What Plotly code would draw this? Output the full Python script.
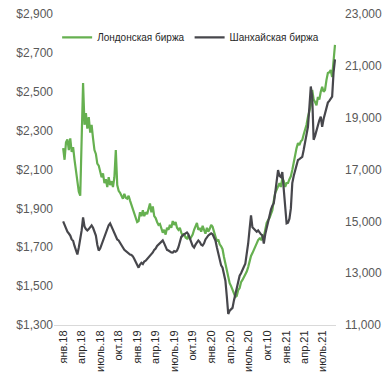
import pandas as pd
import plotly.graph_objects as go

# Weekly observations starting 2018-01-01
start_date = "2018-01-01"

london_usd = [
    2210, 2150, 2240, 2255, 2200, 2260, 2190, 2215, 2150, 2090,
    2040, 1985, 1965, 2350, 2545, 2330, 2390, 2310, 2370, 2290,
    2330, 2260, 2200, 2180, 2130, 2120, 2090, 2060, 2080, 2030,
    2050, 2010, 2060, 2020, 2040, 2010, 2060, 2200, 2020, 1990,
    1980, 1960, 1950, 1975, 1955, 1950, 1965, 1940, 1920, 1890,
    1880, 1860, 1830, 1835, 1880, 1860, 1890, 1860, 1880, 1870,
    1900, 1925, 1880, 1910, 1860, 1850, 1830, 1815, 1820, 1790,
    1775, 1790, 1765, 1800, 1790, 1815, 1800, 1835, 1815, 1830,
    1800, 1790, 1800, 1775, 1760, 1770, 1750, 1745, 1760, 1740,
    1750, 1765, 1790, 1810, 1825, 1790, 1800, 1780, 1810, 1790,
    1770, 1800, 1780, 1795, 1815, 1805, 1780, 1760, 1730, 1740,
    1715, 1705, 1690, 1650, 1615, 1580, 1545, 1515, 1500, 1480,
    1455, 1444, 1450, 1480, 1490, 1520, 1532, 1545, 1557, 1575,
    1598, 1630, 1655, 1670, 1690, 1700, 1720, 1737, 1745, 1740,
    1760, 1753, 1790, 1825, 1840, 1850, 1870, 1890, 1940, 1980,
    1995, 2010, 2030, 2010, 2056, 2040, 2010, 2030, 2031, 2050,
    2065, 2097, 2140, 2185, 2210, 2236, 2225, 2245, 2252, 2280,
    2303, 2330, 2370, 2400, 2430, 2509, 2460, 2447, 2430, 2473,
    2460, 2500, 2525, 2500, 2509, 2560, 2596, 2600, 2612, 2576,
    2663, 2741,
]

shanghai_cny = [
    15000, 14850, 14770, 14600, 14530, 14450, 14300, 14250, 14050, 13850,
    13720, 13990, 14300, 14650, 15155, 14800, 14700, 14650, 14700, 14800,
    14844, 14750, 14600, 14450, 14100, 13873, 13950, 14100, 14300, 14450,
    14600, 14750, 14850, 14922, 14800, 14650, 14500, 14378, 14300, 14262,
    14150, 14050, 13990, 13900, 13850, 13796, 13750, 13720, 13700, 13650,
    13550, 13450, 13369, 13213, 13330, 13400, 13350, 13450, 13485, 13550,
    13600, 13680, 13720, 13800, 13900, 13951, 14050, 14100, 14184, 14230,
    14262, 14150, 14000, 13900, 13873, 13820, 13800, 13796, 13850, 13830,
    13873, 14000, 14200, 14400, 14456, 14500, 14550, 14572, 14500, 14378,
    14200, 14050, 13990, 14100, 14200, 14262, 14200, 14100, 14067, 14150,
    14300, 14400, 14456, 14500, 14534, 14500, 14350, 14262, 14000, 13757,
    13500, 13300, 13213, 12950, 12709, 12100, 11427, 11550, 11620, 11660,
    11950, 12204, 12450, 12709, 12900, 13000, 13097, 13250, 13369, 13700,
    14145, 14700, 15232, 14767, 14700, 14650, 14600, 14650, 14550, 14500,
    14456, 14145, 14500, 14767, 15050, 15310, 15450, 15600, 15698, 16100,
    16475, 16980, 16750, 16709, 16902, 16300, 15500, 14922, 14950, 15100,
    15500, 16475, 16750, 16980, 17150, 17368, 17400, 17450, 17485, 17750,
    18028, 18300, 18650, 19400, 20203, 19814, 18145, 18300, 18533, 18700,
    18900, 19038, 18650, 18950, 19193, 19400, 19581, 19650, 19750, 19814,
    20746, 21251,
]

tick_dates = [
    "2018-01-01", "2018-04-01", "2018-07-01", "2018-10-01",
    "2019-01-01", "2019-04-01", "2019-07-01", "2019-10-01",
    "2020-01-01", "2020-04-01", "2020-07-01", "2020-10-01",
    "2021-01-01", "2021-04-01", "2021-07-01",
]
tick_labels = [
    "янв.18", "апр.18", "июль.18", "окт.18",
    "янв.19", "апр.19", "июль.19", "окт.19",
    "янв.20", "апр.20", "июль.20", "окт.10",
    "янв.21", "апр.21", "июль.21",
]

left_ticks = [1300, 1500, 1700, 1900, 2100, 2300, 2500, 2700, 2900]
right_ticks = [11000, 13000, 15000, 17000, 19000, 21000, 23000]

dates = pd.date_range(start_date, periods=len(london_usd), freq="7D")

fig = go.Figure()
fig.add_trace(go.Scatter(
    x=dates, y=london_usd, name="Лондонская биржа", mode="lines",
    line=dict(color="#66b050", width=2.2),
))
fig.add_trace(go.Scatter(
    x=dates, y=shanghai_cny, name="Шанхайская биржа", mode="lines",
    yaxis="y2", line=dict(color="#47474c", width=2.2),
))

font_family = "Liberation Sans, Arial, sans-serif"

fig.update_layout(
    width=386, height=376,
    margin=dict(l=54, r=50, t=14, b=51, autoexpand=False),
    paper_bgcolor="white", plot_bgcolor="white",
    font=dict(family=font_family, size=12, color="#595959"),
    showlegend=True,
    legend=dict(
        orientation="h", xref="container", x=0.148, y=0.925,
        xanchor="left", yanchor="middle",
        bgcolor="rgba(0,0,0,0)",
        font=dict(family=font_family, size=10, color="#262626"),
        itemwidth=30, tracegroupgap=0,
    ),
    xaxis=dict(
        type="date", range=["2017-11-17", "2021-09-04"],
        tickmode="array", tickvals=tick_dates, ticktext=tick_labels,
        tickangle=-90, tickfont=dict(size=11, color="#262626"),
        showgrid=False, zeroline=False, showline=True, automargin=False,
        linecolor="#d9d9d9", linewidth=1, ticks="",
    ),
    yaxis=dict(
        range=[1300, 2900], tickmode="array", tickvals=left_ticks,
        ticktext=["$" + f"{v:,}" for v in left_ticks],
        showgrid=False, zeroline=False, showline=False, ticks="",
        automargin=False,
        tickfont=dict(size=12, color="#595959"),
    ),
    yaxis2=dict(
        range=[11000, 23000], tickmode="array", tickvals=right_ticks,
        ticktext=[f"{v:,}" for v in right_ticks],
        overlaying="y", side="right",
        showgrid=False, zeroline=False, showline=False, ticks="",
        ticklabelstandoff=8, automargin=False,
        tickfont=dict(size=12, color="#595959"),
    ),
)

fig.write_html(
    "out.html",
    config={"displayModeBar": False},
    post_script="document.body.style.margin='0';document.body.style.padding='0';",
)
